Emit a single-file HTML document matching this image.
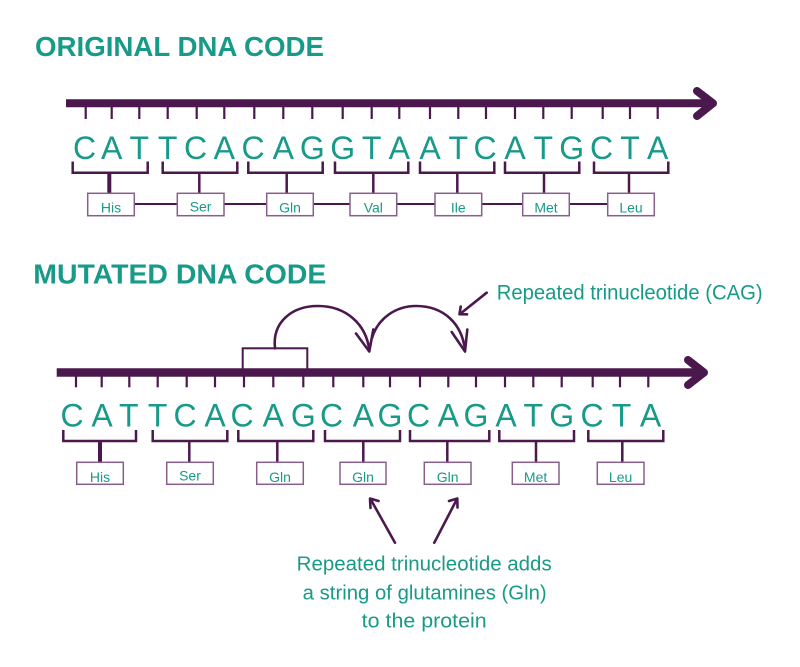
<!DOCTYPE html>
<html>
<head>
<meta charset="utf-8">
<style>
html,body{margin:0;padding:0;background:#fff;}
svg{display:block;}
text{font-family:"Liberation Sans",sans-serif;}
</style>
</head>
<body>
<svg width="800" height="667" viewBox="0 0 800 667" xmlns="http://www.w3.org/2000/svg">
<rect width="800" height="667" fill="#fff"/>

<!-- ===== ORIGINAL ===== -->
<text x="35" y="56" font-size="28" font-weight="bold" fill="#189a88" textLength="289" lengthAdjust="spacingAndGlyphs">ORIGINAL DNA CODE</text>

<!-- bar + arrow -->
<line x1="66" y1="103.3" x2="712" y2="103.3" stroke="#4b184d" stroke-width="8"/>
<polyline points="697,91 713,103.3 697,116" fill="none" stroke="#4b184d" stroke-width="8" stroke-linecap="round" stroke-linejoin="round"/>

<!-- ticks -->
<g stroke="#4b184d" stroke-width="2.2">
<line x1="85.7" y1="107" x2="85.7" y2="119"/>
<line x1="111.7" y1="107" x2="111.7" y2="119"/>
<line x1="139.3" y1="107" x2="139.3" y2="119"/>
<line x1="167.7" y1="107" x2="167.7" y2="119"/>
<line x1="196.7" y1="107" x2="196.7" y2="119"/>
<line x1="224.3" y1="107" x2="224.3" y2="119"/>
<line x1="254.3" y1="107" x2="254.3" y2="119"/>
<line x1="283.3" y1="107" x2="283.3" y2="119"/>
<line x1="312.3" y1="107" x2="312.3" y2="119"/>
<line x1="342.7" y1="107" x2="342.7" y2="119"/>
<line x1="371.7" y1="107" x2="371.7" y2="119"/>
<line x1="399.3" y1="107" x2="399.3" y2="119"/>
<line x1="430" y1="107" x2="430" y2="119"/>
<line x1="458.3" y1="107" x2="458.3" y2="119"/>
<line x1="486" y1="107" x2="486" y2="119"/>
<line x1="515" y1="107" x2="515" y2="119"/>
<line x1="543.3" y1="107" x2="543.3" y2="119"/>
<line x1="571.7" y1="107" x2="571.7" y2="119"/>
<line x1="602.7" y1="107" x2="602.7" y2="119"/>
<line x1="630" y1="107" x2="630" y2="119"/>
<line x1="657.7" y1="107" x2="657.7" y2="119"/>
</g>

<!-- letters -->
<g font-size="32" fill="#189a88" text-anchor="middle">
<text x="84.5" y="159">C</text>
<text x="111.7" y="159">A</text>
<text x="139.3" y="159">T</text>
<text x="167.7" y="159">T</text>
<text x="195.5" y="159">C</text>
<text x="224.3" y="159">A</text>
<text x="253" y="159">C</text>
<text x="283.3" y="159">A</text>
<text x="312.3" y="159">G</text>
<text x="342.7" y="159">G</text>
<text x="371.7" y="159">T</text>
<text x="399.3" y="159">A</text>
<text x="430" y="159">A</text>
<text x="458.3" y="159">T</text>
<text x="485" y="159">C</text>
<text x="515" y="159">A</text>
<text x="543.3" y="159">T</text>
<text x="571.7" y="159">G</text>
<text x="601.5" y="159">C</text>
<text x="630" y="159">T</text>
<text x="657.7" y="159">A</text>
</g>

<!-- brackets -->
<g fill="none" stroke="#4b184d" stroke-width="2.5">
<polyline points="72.7,161.5 72.7,172.7 147.7,172.7 147.7,161.5"/>
<polyline points="162.7,161.5 162.7,172.7 237.3,172.7 237.3,161.5"/>
<polyline points="248.3,161.5 248.3,172.7 322.7,172.7 322.7,161.5"/>
<polyline points="335,161.5 335,172.7 408.3,172.7 408.3,161.5"/>
<polyline points="420,161.5 420,172.7 494.3,172.7 494.3,161.5"/>
<polyline points="505,161.5 505,172.7 579.3,172.7 579.3,161.5"/>
<polyline points="594,161.5 594,172.7 668.3,172.7 668.3,161.5"/>
<line x1="199.3" y1="172.7" x2="199.3" y2="193.3"/>
<line x1="286.7" y1="172.7" x2="286.7" y2="193.3"/>
<line x1="373.3" y1="172.7" x2="373.3" y2="193.3"/>
<line x1="457.3" y1="172.7" x2="457.3" y2="193.3"/>
<line x1="544" y1="172.7" x2="544" y2="193.3"/>
<line x1="629" y1="172.7" x2="629" y2="193.3"/>
</g>
<line x1="109.3" y1="172.7" x2="109.3" y2="193.3" stroke="#4b184d" stroke-width="4"/>

<!-- connector line -->
<line x1="134.3" y1="204" x2="607.7" y2="204" stroke="#4b184d" stroke-width="2"/>

<!-- boxes -->
<g fill="#fff" stroke="#86608a" stroke-width="1.5">
<rect x="87.7" y="193.3" width="46.6" height="22.4"/>
<rect x="177.3" y="193.3" width="46.7" height="22.4"/>
<rect x="266.7" y="193.3" width="46.6" height="22.4"/>
<rect x="350" y="193.3" width="46.7" height="22.4"/>
<rect x="435" y="193.3" width="46.7" height="22.4"/>
<rect x="522.7" y="193.3" width="46.6" height="22.4"/>
<rect x="607.7" y="193.3" width="46.6" height="22.4"/>
</g>
<g font-size="14" fill="#189a88" text-anchor="middle">
<text x="111" y="212.5">His</text>
<text x="200.6" y="211.5">Ser</text>
<text x="290" y="212.5">Gln</text>
<text x="373.3" y="212.5">Val</text>
<text x="458.3" y="212.5">Ile</text>
<text x="546" y="212.5">Met</text>
<text x="631" y="212.5">Leu</text>
</g>

<!-- ===== MUTATED ===== -->
<text x="33.3" y="283.3" font-size="28" font-weight="bold" fill="#189a88" textLength="293" lengthAdjust="spacingAndGlyphs">MUTATED DNA CODE</text>

<!-- box on bar -->
<rect x="242.7" y="348.3" width="64.6" height="22" fill="#fff" stroke="#4b184d" stroke-width="2"/>

<!-- bar + arrow -->
<line x1="56.7" y1="372.5" x2="702" y2="372.5" stroke="#4b184d" stroke-width="8.4"/>
<polyline points="688,360 704,372.5 688,385" fill="none" stroke="#4b184d" stroke-width="8" stroke-linecap="round" stroke-linejoin="round"/>

<!-- curved arrows -->
<g fill="none" stroke="#4b184d" stroke-width="2.6" stroke-linecap="round" stroke-linejoin="round">
<path d="M275,348.3 C272,322 292,306 318,306 C346,306 366,324 369.3,350"/>
<polyline points="356,333.5 369.3,351.5 373.3,329.5"/>
<path d="M372,338 C378,318 396,306 416,306 C444,306 462,324 465,350"/>
<polyline points="451.7,332 465,351.5 467.3,329.5"/>
<line x1="486.7" y1="292.7" x2="460" y2="314"/>
<polyline points="460.7,306.5 459.5,314.2 467,314.3"/>
</g>

<text x="496.7" y="299.3" font-size="21" fill="#189a88" textLength="266" lengthAdjust="spacingAndGlyphs">Repeated trinucleotide (CAG)</text>

<!-- ticks -->
<g stroke="#4b184d" stroke-width="2.2">
<line x1="76" y1="376" x2="76" y2="387.3"/>
<line x1="101.7" y1="376" x2="101.7" y2="387.3"/>
<line x1="129.3" y1="376" x2="129.3" y2="387.3"/>
<line x1="157.7" y1="376" x2="157.7" y2="387.3"/>
<line x1="186.7" y1="376" x2="186.7" y2="387.3"/>
<line x1="215" y1="376" x2="215" y2="387.3"/>
<line x1="244" y1="376" x2="244" y2="387.3"/>
<line x1="273.3" y1="376" x2="273.3" y2="387.3"/>
<line x1="303.3" y1="376" x2="303.3" y2="387.3"/>
<line x1="333.3" y1="376" x2="333.3" y2="387.3"/>
<line x1="363.3" y1="376" x2="363.3" y2="387.3"/>
<line x1="390" y1="376" x2="390" y2="387.3"/>
<line x1="420" y1="376" x2="420" y2="387.3"/>
<line x1="448.3" y1="376" x2="448.3" y2="387.3"/>
<line x1="476" y1="376" x2="476" y2="387.3"/>
<line x1="505" y1="376" x2="505" y2="387.3"/>
<line x1="533.3" y1="376" x2="533.3" y2="387.3"/>
<line x1="561.7" y1="376" x2="561.7" y2="387.3"/>
<line x1="592.7" y1="376" x2="592.7" y2="387.3"/>
<line x1="620" y1="376" x2="620" y2="387.3"/>
<line x1="648.3" y1="376" x2="648.3" y2="387.3"/>
</g>

<!-- letters -->
<g font-size="32" fill="#189a88" text-anchor="middle">
<text x="72" y="426.7">C</text>
<text x="102" y="426.7">A</text>
<text x="128.8" y="426.7">T</text>
<text x="157.7" y="426.7">T</text>
<text x="185" y="426.7">C</text>
<text x="215" y="426.7">A</text>
<text x="242" y="426.7">C</text>
<text x="273.3" y="426.7">A</text>
<text x="303.3" y="426.7">G</text>
<text x="331.5" y="426.7">C</text>
<text x="363.3" y="426.7">A</text>
<text x="390" y="426.7">G</text>
<text x="418.5" y="426.7">C</text>
<text x="448.3" y="426.7">A</text>
<text x="476" y="426.7">G</text>
<text x="506" y="426.7">A</text>
<text x="533.3" y="426.7">T</text>
<text x="561.7" y="426.7">G</text>
<text x="592" y="426.7">C</text>
<text x="621.5" y="426.7">T</text>
<text x="650.5" y="426.7">A</text>
</g>

<!-- brackets -->
<g fill="none" stroke="#4b184d" stroke-width="2.5">
<polyline points="63.3,430 63.3,441 136,441 136,430"/>
<polyline points="152.7,430 152.7,441 227.3,441 227.3,430"/>
<polyline points="238.3,430 238.3,441 313.3,441 313.3,430"/>
<polyline points="325,430 325,441 400,441 400,430"/>
<polyline points="410,430 410,441 489.3,441 489.3,430"/>
<polyline points="499.3,430 499.3,441 574,441 574,430"/>
<polyline points="588.3,430 588.3,441 663.3,441 663.3,430"/>
<line x1="189.3" y1="441" x2="189.3" y2="462.3"/>
<line x1="277.3" y1="441" x2="277.3" y2="462.3"/>
<line x1="363.3" y1="441" x2="363.3" y2="462.3"/>
<line x1="447.3" y1="441" x2="447.3" y2="462.3"/>
<line x1="536" y1="441" x2="536" y2="462.3"/>
<line x1="622.3" y1="441" x2="622.3" y2="462.3"/>
</g>
<line x1="100" y1="441" x2="100" y2="462.3" stroke="#4b184d" stroke-width="4"/>

<!-- boxes -->
<g fill="#fff" stroke="#86608a" stroke-width="1.5">
<rect x="76.7" y="462.3" width="46.6" height="22"/>
<rect x="166.7" y="462.3" width="46.6" height="22"/>
<rect x="256.7" y="462.3" width="46.6" height="22"/>
<rect x="340" y="462.3" width="46" height="22"/>
<rect x="424.3" y="462.3" width="46.7" height="22"/>
<rect x="512.3" y="462.3" width="46.7" height="22"/>
<rect x="597.3" y="462.3" width="46.7" height="22"/>
</g>
<g font-size="14" fill="#189a88" text-anchor="middle">
<text x="100" y="482">His</text>
<text x="190" y="480.7">Ser</text>
<text x="280" y="482">Gln</text>
<text x="363" y="482">Gln</text>
<text x="447.6" y="482">Gln</text>
<text x="535.6" y="482">Met</text>
<text x="620.6" y="482">Leu</text>
</g>

<!-- bottom arrows -->
<g fill="none" stroke="#4b184d" stroke-width="2.6" stroke-linecap="round" stroke-linejoin="round">
<line x1="395" y1="542.7" x2="370.5" y2="499"/>
<polyline points="370.5,508 370,498.5 378.5,501"/>
<line x1="434.3" y1="542.7" x2="457" y2="499"/>
<polyline points="449,501 457.3,498.5 457.5,507.5"/>
</g>

<g font-size="20" fill="#189a88" text-anchor="middle">
<text x="424.2" y="570.7" textLength="255" lengthAdjust="spacingAndGlyphs">Repeated trinucleotide adds</text>
<text x="424.7" y="599.3" textLength="244" lengthAdjust="spacingAndGlyphs">a string of glutamines (Gln)</text>
<text x="424.2" y="627.3" textLength="125" lengthAdjust="spacingAndGlyphs">to the protein</text>
</g>
</svg>
</body>
</html>
